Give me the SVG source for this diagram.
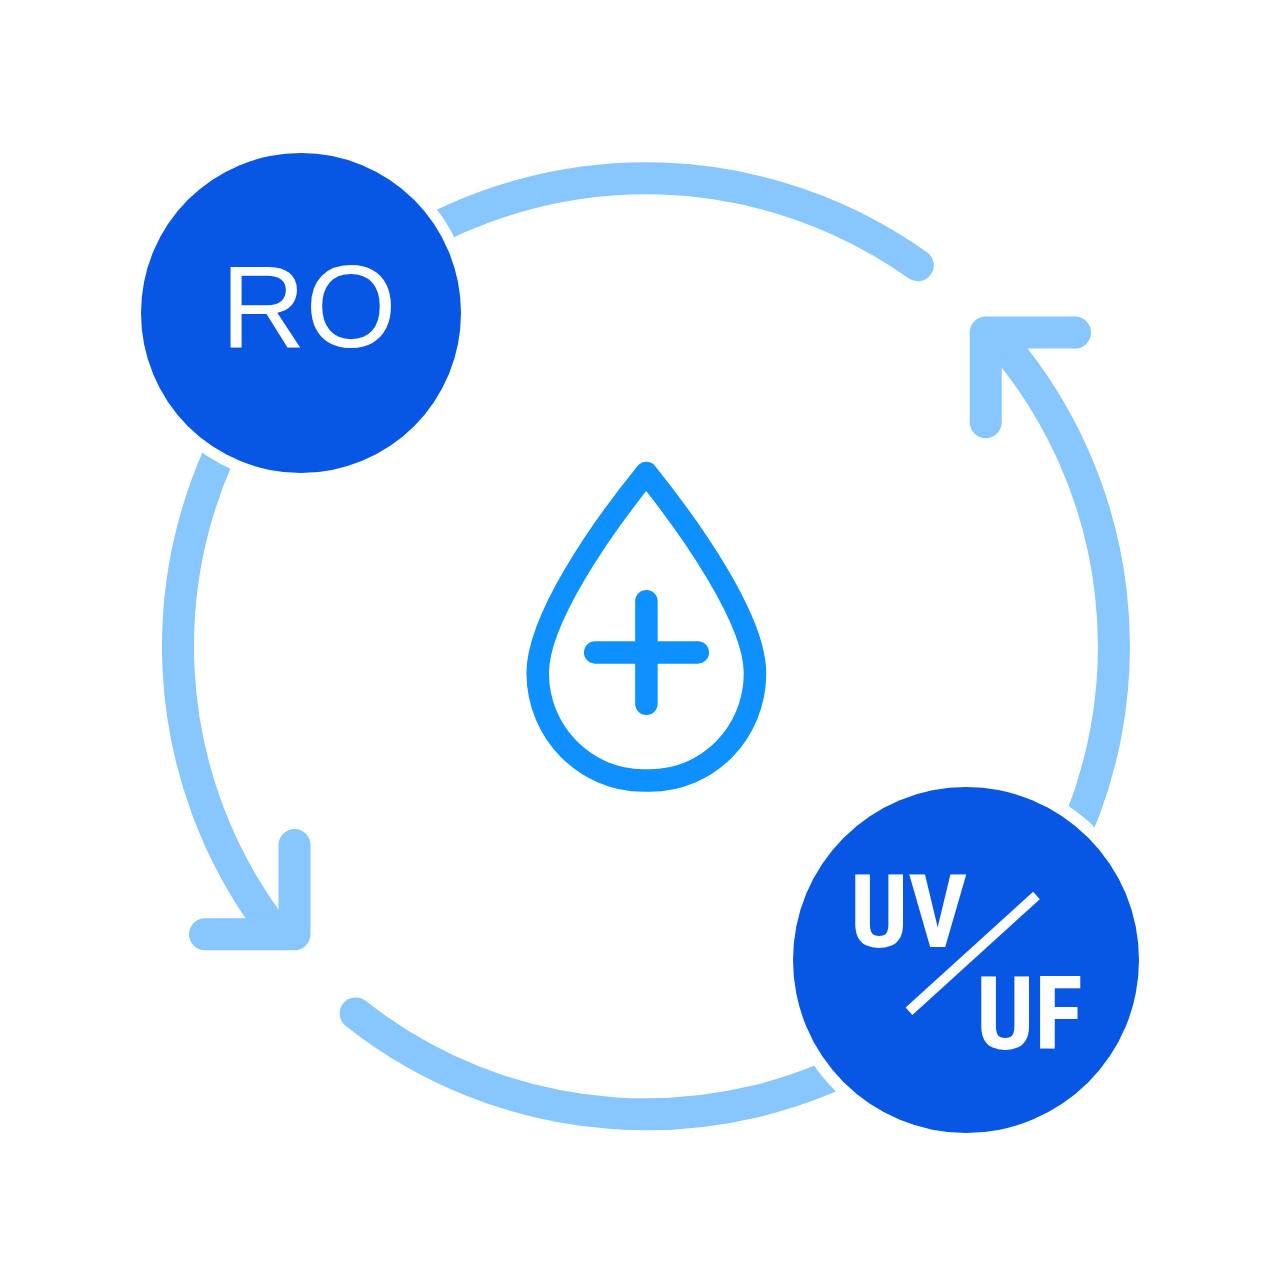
<svg xmlns="http://www.w3.org/2000/svg" width="1280" height="1280" viewBox="0 0 1280 1280">
<defs><style>
.arc{fill:none;stroke:#87c6ff;stroke-width:32;stroke-linecap:butt}
.end{stroke-linecap:round}
.head{fill:none;stroke:#87c6ff;stroke-width:32;stroke-linecap:round;stroke-linejoin:round}
.badge{fill:#0857e4}
.halo{fill:#fff}
.drop{fill:none;stroke:#0e90ff;stroke-width:22.5;stroke-linecap:round;stroke-linejoin:round}
</style></defs>
<rect width="1280" height="1280" fill="#fff"/>
<g id="connectors">
<path class="arc end" d="M400.5 247.9A468 468 0 0 1 917.8 265.3"/>
<path class="arc" d="M1061.6 861.3A468 468 0 0 0 1000.4 340.7"/>
<path class="head" d="M985.7 422.3V332.6H1075"/>
<path class="arc" d="M248.8 398.8A468 468 0 0 0 274.2 930.6"/>
<path class="head" d="M294.5 845V934.2H205"/>
<path class="arc end" d="M880.7 1051.2A468 468 0 0 1 355.7 1013.4"/>
</g>
<g id="ro" fill="#fff"><circle class="halo" cx="301" cy="313" r="171"/><circle class="badge" cx="301" cy="313" r="160"/><text x="221" y="346.7" font-size="117" font-family="Liberation Sans">RO</text></g>
<g id="uvuf" fill="#fff"><circle class="halo" cx="966" cy="960" r="185"/><circle class="badge" cx="966" cy="960" r="173"/>
<text x="850" y="947" font-size="102" font-weight="700" font-family="Roboto Condensed">UV</text>
<text x="976" y="1049" font-size="102" font-weight="700" font-family="Roboto Condensed">UF</text>
<path d="M1036.5 895.5L909 1011.3" stroke="#fff" stroke-width="10" fill="none"/></g>
<g id="drop">
<path class="drop" d="M646.3 473C600 530 537.7 620 537.7 673C537.7 733 586 780.5 643 780.5H650C708 780.5 755 733 755 673C755 620 692 530 646.3 473Z"/>
<path class="drop" d="M646.4 601.2V703.8M595.2 652.4H697.8"/>
</g>
</svg>
